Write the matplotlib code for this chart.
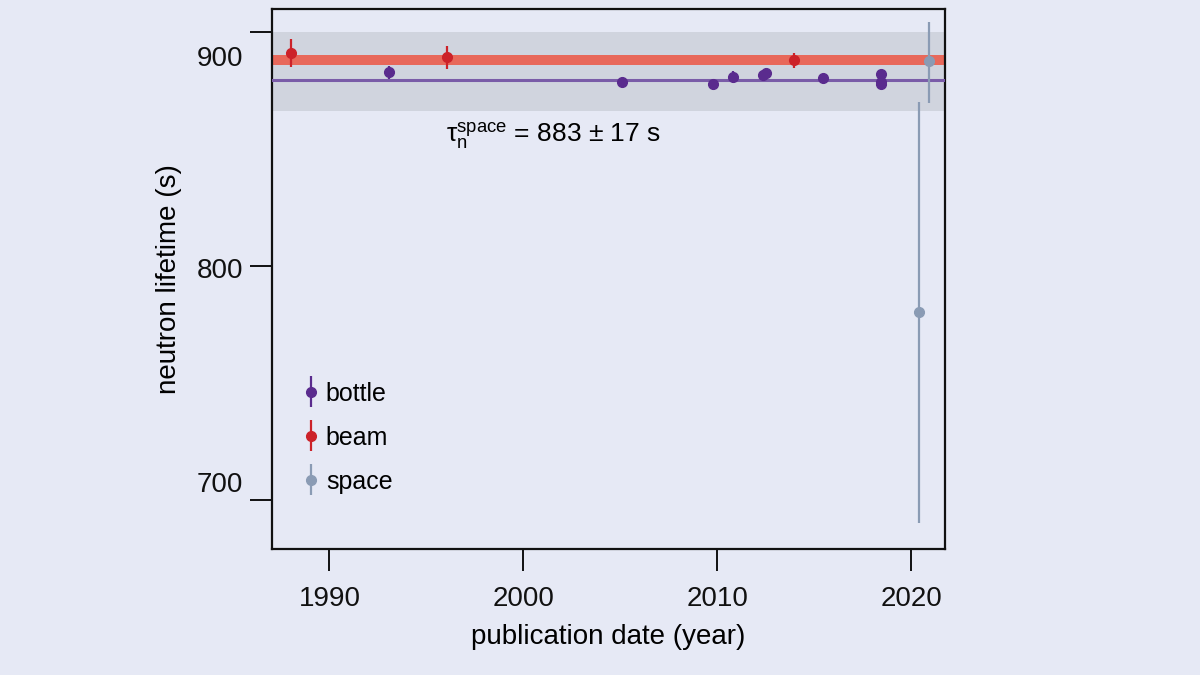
import matplotlib
matplotlib.use("Agg")
import matplotlib.pyplot as plt
from matplotlib.transforms import ScaledTranslation
from matplotlib.container import ErrorbarContainer
from matplotlib.legend_handler import HandlerErrorbar

plt.rcParams['font.family'] = ['Liberation Sans', 'DejaVu Sans']
plt.rcParams['mathtext.fontset'] = 'custom'
plt.rcParams['mathtext.rm'] = 'Liberation Sans'
plt.rcParams['mathtext.it'] = 'Liberation Sans'
plt.rcParams['mathtext.sf'] = 'Liberation Sans'

# ---- data ----
bottle_year = [1993.1, 2005.1, 2009.8, 2010.8, 2012.35, 2012.5, 2015.45, 2018.45, 2018.45, 2018.45]
bottle_tau = [882.6, 878.5, 877.5, 880.6, 881.5, 882.5, 880.3, 881.8, 878.3, 877.7]
bottle_err = [2.6, 0.8, 2.5, 2.6, 2.0, 2.0, 1.2, 0.9, 1.9, 0.7]

beam_year = [1988.0, 1996.05, 2013.95]
beam_tau = [891.0, 889.0, 887.9]
beam_err = [5.9, 4.9, 3.2]

space_year = [2020.42, 2020.93]
space_tau = [780.1, 887.3]
space_err_lo = [89.8, 17.9]
space_err_hi = [90.0, 16.8]

space_mean, space_unc = 883.0, 17.0
beam_mean, beam_unc = 888.0, 2.1
bottle_mean = 879.4

x_ticks = [1990, 2000, 2010, 2020]
y_ticks = [700, 800, 900]
y_ticklabels = ['700', '800', '900']
legend_labels = ['bottle', 'beam', 'space']

# ---- colours ----
BG = '#e6e9f5'
GRAYBAND = '#d0d4de'
REDBAND = '#e8685a'
RED = '#cc2229'
PURPLE = '#5a2b8e'
PURPLE_LINE = '#7a5ca8'
SPACE = '#8a9bb4'

fig = plt.figure(figsize=(12, 6.75), dpi=100, facecolor=BG)
ax = fig.add_axes([272/1200, 1 - 549/675, (945-272)/1200, (549-9)/675])
ax.set_facecolor(BG)

ax.axhspan(space_mean - space_unc, space_mean + space_unc, color=GRAYBAND, lw=0, zorder=1)
ax.axhspan(beam_mean - beam_unc, beam_mean + beam_unc, color=REDBAND, lw=0, zorder=2)
ax.axhline(bottle_mean, color=PURPLE_LINE, lw=2.2, zorder=3)

eb_kw = dict(fmt='o', markersize=7, elinewidth=1.6, capsize=0, zorder=5)
h_bottle = ax.errorbar(bottle_year, bottle_tau, yerr=bottle_err, color=PURPLE,
                       mfc=PURPLE, mec=PURPLE, **eb_kw)
h_beam = ax.errorbar(beam_year, beam_tau, yerr=beam_err, color=RED,
                     mfc=RED, mec=RED, **eb_kw)
h_space = ax.errorbar(space_year, space_tau, yerr=[space_err_lo, space_err_hi],
                      color=SPACE, mfc=SPACE, mec=SPACE, **eb_kw)

ax.set_xlim(1987.04, 2021.75)
ax.set_ylim(679.0, 909.7)
ax.set_xticks(x_ticks)
ax.set_yticks(y_ticks)
ax.set_yticklabels(y_ticklabels)

for s in ax.spines.values():
    s.set_linewidth(1.6)
    s.set_color('#111111')
ax.tick_params(axis='both', direction='out', length=16, width=1.4, colors='#111111',
               labelsize=20, labelcolor='#111111')
ax.tick_params(axis='x', pad=11)
ax.tick_params(axis='y', pad=5)

# tick labels in the reference sit slightly off their tick marks
offsets = {700: 13.0, 800: -1.5, 900: -17.5}
for tick, v in zip(ax.yaxis.get_major_ticks(), y_ticks):
    lab = tick.label1
    lab.set_transform(lab.get_transform() + ScaledTranslation(0, offsets[v]/72, fig.dpi_scale_trans))

ax.set_xlabel('publication date (year)', fontsize=20, labelpad=8)
ax.set_ylabel('neutron lifetime (s)', fontsize=20, labelpad=10)

ax.text(1996.0, 852.9, r'$\mathrm{τ}_{\mathrm{n}}^{\mathrm{space}}$ = 883 ± 17 s',
        fontsize=19, va='baseline', ha='left', zorder=6)

leg = ax.legend([h_bottle, h_beam, h_space], legend_labels, loc='upper left',
                bbox_to_anchor=(0.043, 0.31), frameon=False, fontsize=18,
                handlelength=0.8, handletextpad=0.2, labelspacing=0.8,
                borderpad=0, borderaxespad=0,
                handler_map={ErrorbarContainer: HandlerErrorbar(yerr_size=0.62)})

fig.savefig('out.png', dpi=100, facecolor=BG)
